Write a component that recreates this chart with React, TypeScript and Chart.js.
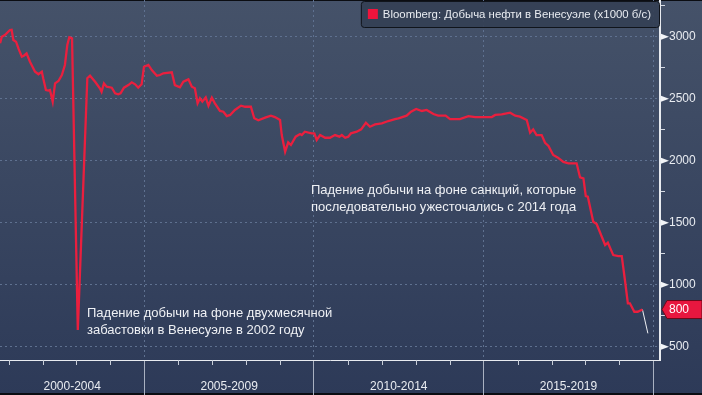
import React, { useEffect, useRef } from 'react';
import { Chart, registerables } from 'chart.js';

Chart.register(...registerables);

// ---- data ----
const years = [
  2000.75, 2000.80, 2000.89, 2001.04, 2001.09, 2001.14, 2001.22, 2001.29, 2001.39, 2001.45,
  2001.53, 2001.63, 2001.78, 2001.88, 2001.98, 2002.02, 2002.10, 2002.17, 2002.22, 2002.30,
  2002.37, 2002.47, 2002.57, 2002.66, 2002.73, 2002.79, 2002.87, 2003.04, 2003.32, 2003.40,
  2003.55, 2003.69, 2003.74, 2003.81, 2003.89, 2004.04, 2004.14, 2004.23, 2004.30, 2004.40,
  2004.53, 2004.63, 2004.73, 2004.82, 2004.92, 2004.99, 2005.12, 2005.22, 2005.37, 2005.46,
  2005.56, 2005.81, 2005.90, 2006.05, 2006.15, 2006.30, 2006.40, 2006.49, 2006.57, 2006.64,
  2006.71, 2006.81, 2006.89, 2006.99, 2007.08, 2007.23, 2007.33, 2007.43, 2007.53, 2007.67,
  2007.85, 2007.97, 2008.14, 2008.24, 2008.36, 2008.56, 2008.73, 2008.85, 2009.00, 2009.05,
  2009.15, 2009.24, 2009.32, 2009.46, 2009.59, 2009.64, 2009.73, 2009.93, 2010.01, 2010.08,
  2010.18, 2010.33, 2010.47, 2010.62, 2010.75, 2010.82, 2010.92, 2011.01, 2011.09, 2011.26,
  2011.39, 2011.53, 2011.65, 2011.80, 2012.00, 2012.19, 2012.39, 2012.49, 2012.73, 2012.86,
  2013.01, 2013.18, 2013.32, 2013.52, 2013.66, 2013.88, 2014.01, 2014.30, 2014.55, 2014.75,
  2015.24, 2015.34, 2015.53, 2015.78, 2015.93, 2016.07, 2016.27, 2016.37, 2016.46, 2016.56,
  2016.71, 2016.81, 2016.91, 2017.05, 2017.18, 2017.35, 2017.50, 2017.74, 2017.84, 2017.94,
  2018.01, 2018.07, 2018.23, 2018.33, 2018.58, 2018.66, 2018.82, 2018.97, 2019.07, 2019.17,
  2019.25, 2019.31, 2019.44, 2019.54, 2019.68,
];

const production = [
  2947, 3000, 3014, 3054, 3056, 2973, 2960, 2906, 2839, 2847,
  2866, 2798, 2718, 2697, 2718, 2665, 2570, 2565, 2570, 2476,
  2624, 2643, 2691, 2772, 2933, 2995, 2987, 635, 2665, 2685,
  2637, 2584, 2556, 2624, 2597, 2589, 2544, 2535, 2544, 2589,
  2610, 2632, 2616, 2589, 2616, 2758, 2772, 2731, 2685, 2691,
  2705, 2713, 2610, 2592, 2637, 2656, 2597, 2584, 2463, 2503,
  2476, 2511, 2444, 2508, 2463, 2401, 2395, 2360, 2369, 2409,
  2444, 2435, 2435, 2342, 2326, 2347, 2363, 2352, 2328, 2207,
  2073, 2148, 2127, 2194, 2215, 2207, 2234, 2221, 2221, 2167,
  2207, 2185, 2185, 2207, 2194, 2207, 2185, 2194, 2221, 2234,
  2253, 2306, 2274, 2293, 2302, 2320, 2336, 2342, 2363, 2395,
  2417, 2401, 2409, 2377, 2363, 2363, 2336, 2336, 2360, 2352,
  2352, 2369, 2374, 2387, 2363, 2355, 2328, 2226, 2253, 2207,
  2207, 2145, 2119, 2046, 2027, 1991, 1979, 1979, 1866, 1858,
  1715, 1710, 1508, 1489, 1320, 1339, 1239, 1231, 1231, 1024,
  850, 850, 782, 782, 800,
];

const estimateYears = [2019.68, 2019.84];
const estimateValues = [800, 608];

const periodStarts = [2000, 2005, 2010, 2015];
const periodLabels = ['2000-2004', '2005-2009', '2010-2014', '2015-2019'];

const yTickValues = [500, 750, 1000, 1250, 1500, 1750, 2000, 2250, 2500, 2750, 3000, 3250];

const legendLabel = 'Bloomberg: Добыча нефти в Венесуэле (x1000 б/с)';
const lastValueLabel = '800';

const annotationYears = [2003.31, 2009.91];
const annotationValues = [771, 1764];
const annotationLines = [
  ['Падение добычи на фоне двухмесячной', 'забастовки в Венесуэле в 2002 году'],
  ['Падение добычи на фоне санкций, которые', 'последовательно ужесточались с 2014 года'],
];

const X_MIN = 2000.747;
const X_MAX = 2020.197;
const Y_MIN = 393;
const Y_MAX = 3296;

// ---- styles ----
const FONT = "'Liberation Sans', Arial, sans-serif";
const RED = '#ea1f3e';
const TEXT = '#e9ecf1';
const GRID = '#5f7190';

const labelCenters = periodStarts.map(
  (s) => (Math.max(s, X_MIN) + Math.min(s + 5, X_MAX)) / 2
);

const isMajorYear = (v: any) =>
  typeof v === 'number' && Number.isInteger(v) && v % 5 === 0;

const decorPlugin = {
  id: 'decor',
  beforeDraw(chart: any) {
    const { ctx, width, height } = chart;
    ctx.save();
    const g = ctx.createLinearGradient(0, 0, 0, height);
    g.addColorStop(0, '#455269');
    g.addColorStop(1, '#2d3a58');
    ctx.fillStyle = g;
    ctx.fillRect(0, 0, width, height);
    ctx.fillStyle = '#0b0d12';
    ctx.fillRect(0, 0, width, 1);
    ctx.fillRect(0, height - 2, width, 2);
    ctx.restore();
  },
  afterDraw(chart: any) {
    const { ctx, chartArea, width } = chart;
    const xs = chart.scales.x;
    const ys = chart.scales.y;
    ctx.save();

    // minor year ticks under the x axis
    ctx.strokeStyle = '#c9cfd9';
    ctx.lineWidth = 1;
    for (let yr = Math.ceil(xs.min); yr <= xs.max; yr++) {
      if (yr % 5 === 0) continue;
      const px = Math.round(xs.getPixelForValue(yr)) + 0.5;
      ctx.beginPath();
      ctx.moveTo(px, chartArea.bottom);
      ctx.lineTo(px, chartArea.bottom + 5);
      ctx.stroke();
    }

    // triangle markers for major y ticks
    ctx.fillStyle = '#f2f4f7';
    for (const v of yTickValues) {
      if (v % 500 !== 0) continue;
      const py = ys.getPixelForValue(v);
      const x0 = chartArea.right + 1;
      ctx.beginPath();
      ctx.moveTo(x0, py - 3);
      ctx.lineTo(x0 + 8, py);
      ctx.lineTo(x0, py + 3);
      ctx.closePath();
      ctx.fill();
    }

    // last value tag
    const lastV = production[production.length - 1];
    const ty = ys.getPixelForValue(lastV);
    const tipX = chartArea.right + 2;
    ctx.beginPath();
    ctx.moveTo(tipX, ty);
    ctx.lineTo(tipX + 5, ty - 9);
    ctx.lineTo(width, ty - 9);
    ctx.lineTo(width, ty + 9);
    ctx.lineTo(tipX + 5, ty + 9);
    ctx.closePath();
    ctx.fillStyle = '#e8173f';
    ctx.fill();
    ctx.strokeStyle = '#6d0a1b';
    ctx.lineWidth = 1;
    ctx.stroke();
    ctx.fillStyle = '#ffffff';
    ctx.font = `12px ${FONT}`;
    ctx.textBaseline = 'middle';
    ctx.textAlign = 'left';
    ctx.fillText(lastValueLabel, tipX + 7, ty + 0.5);

    // legend box
    ctx.font = `11.4px ${FONT}`;
    const tw = ctx.measureText(legendLabel).width;
    const boxRight = chartArea.right - 1;
    const boxW = tw + 30;
    const boxLeft = boxRight - boxW;
    const boxTop = 1;
    const boxH = 26;
    ctx.beginPath();
    if (ctx.roundRect) ctx.roundRect(boxLeft + 0.5, boxTop + 0.5, boxW, boxH, 3);
    else ctx.rect(boxLeft + 0.5, boxTop + 0.5, boxW, boxH);
    ctx.fillStyle = 'rgba(52,63,84,0.9)';
    ctx.fill();
    ctx.strokeStyle = '#10141b';
    ctx.stroke();
    ctx.fillStyle = '#f0143c';
    ctx.fillRect(boxLeft + 7, boxTop + 8, 10, 10);
    ctx.fillStyle = TEXT;
    ctx.textBaseline = 'middle';
    ctx.fillText(legendLabel, boxLeft + 22, boxTop + 14);

    // annotations
    ctx.font = `13px ${FONT}`;
    ctx.fillStyle = '#eef0f4';
    annotationLines.forEach((lines, i) => {
      const ax = xs.getPixelForValue(annotationYears[i]);
      const ay = ys.getPixelForValue(annotationValues[i]);
      lines.forEach((line, j) => {
        ctx.fillText(line, ax, ay + j * 17);
      });
    });

    ctx.restore();
  },
};

export default function App() {
  const canvasRef = useRef<HTMLCanvasElement | null>(null);

  useEffect(() => {
    const canvas = canvasRef.current;
    if (!canvas) return;

    const chart = new Chart(canvas, {
      type: 'line',
      data: {
        datasets: [
          {
            label: legendLabel,
            data: years.map((x, i) => ({ x, y: production[i] })),
            borderColor: RED,
            borderWidth: 2.3,
            pointRadius: 0,
            tension: 0,
          },
          {
            label: 'estimate',
            data: estimateYears.map((x, i) => ({ x, y: estimateValues[i] })),
            borderColor: '#eef0f4',
            borderWidth: 1,
            pointRadius: 0,
            tension: 0,
          },
        ],
      },
      options: {
        responsive: false,
        animation: false,
        devicePixelRatio: 1,
        layout: { padding: 0 },
        plugins: {
          legend: { display: false },
          tooltip: { enabled: false },
        },
        scales: {
          x: {
            type: 'linear',
            min: X_MIN,
            max: X_MAX,
            afterBuildTicks: (scale: any) => {
              const vals: number[] = [];
              for (let yr = Math.ceil(X_MIN); yr <= X_MAX; yr++) vals.push(yr);
              labelCenters.forEach((c) => vals.push(c));
              vals.sort((a, b) => a - b);
              scale.ticks = vals.map((value) => ({ value }));
            },
            afterFit: (scale: any) => {
              scale.height = 35;
              scale.paddingLeft = 0;
              scale.paddingRight = 0;
            },
            ticks: {
              autoSkip: false,
              maxRotation: 0,
              padding: -16,
              color: TEXT,
              font: { family: FONT, size: 12 },
              callback: (value: any) => {
                const idx = labelCenters.findIndex((c) => Math.abs(c - value) < 1e-6);
                return idx >= 0 ? periodLabels[idx] : '';
              },
            },
            grid: {
              color: (ctx: any) =>
                ctx.tick && isMajorYear(ctx.tick.value) ? GRID : 'rgba(0,0,0,0)',
              tickColor: (ctx: any) =>
                ctx.tick && isMajorYear(ctx.tick.value) ? '#a9b1c1' : 'rgba(0,0,0,0)',
              tickLength: 35,
              tickBorderDash: [],
              lineWidth: 1,
            },
            border: { display: true, color: '#e8ebf0', width: 1, dash: [2, 3] },
          },
          y: {
            type: 'linear',
            position: 'right',
            min: Y_MIN,
            max: Y_MAX,
            afterBuildTicks: (scale: any) => {
              scale.ticks = yTickValues.map((value) => ({ value }));
            },
            afterFit: (scale: any) => {
              scale.width = 42;
              scale.paddingTop = 0;
              scale.paddingBottom = 0;
            },
            ticks: {
              padding: 4,
              color: TEXT,
              font: { family: FONT, size: 12 },
              callback: (value: any) => (value % 500 === 0 ? String(value) : ''),
            },
            grid: {
              color: (ctx: any) =>
                ctx.tick && ctx.tick.value % 500 === 0 ? GRID : 'rgba(0,0,0,0)',
              tickColor: (ctx: any) =>
                ctx.tick && ctx.tick.value % 500 !== 0 ? '#d5dae3' : 'rgba(0,0,0,0)',
              tickLength: 5,
              tickBorderDash: [],
              lineWidth: 1,
            },
            border: { display: true, color: '#e8ebf0', width: 2, dash: [2, 3] },
          },
        },
      },
      plugins: [decorPlugin],
    } as any);

    return () => chart.destroy();
  }, []);

  return (
    <div style={{ position: 'fixed', left: 0, top: 0, width: 702, height: 395 }}>
      <canvas ref={canvasRef} width={702} height={395} style={{ display: 'block' }} />
    </div>
  );
}
